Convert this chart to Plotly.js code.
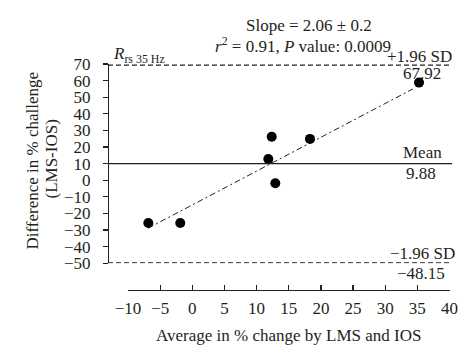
<!DOCTYPE html>
<html>
<head>
<meta charset="utf-8">
<script src="https://cdn.plot.ly/plotly-3.0.1.min.js"></script>
<style>html,body{margin:0;padding:0;background:#fff;}#chart{width:474px;height:361px;}</style>
</head>
<body>
<div id="chart"></div>
<script>
// Data
const avgChange = [-6.84, -1.87, 11.82, 12.35, 12.91, 18.3, 35.26];
const diffChange = [-25.7, -25.7, 12.8, 26.2, -1.8, 24.9, 58.8];
const fitX = [-6.9, 34.3];
const fitY = [-28.9, 55.0];
const upperLoA = 69.3;   // drawn position of +1.96 SD line
const meanDiff = 10.0;   // drawn position of mean line
const lowerLoA = -49.8;  // drawn position of -1.96 SD line
const xTicks = [-10, -5, 0, 5, 10, 15, 20, 25, 30, 35, 40];
const yTicks = [-50, -40, -30, -20, -10, 0, 10, 20, 30, 40, 50, 60, 70];
const labelUpper = ['+1.96 SD', '67.92'];
const labelMean = ['Mean', '9.88'];
const labelLower = ['\u22121.96 SD', '\u221248.15'];
const yTitleLines = ['Difference in % challenge', '(LMS-IOS)'];
const xTitle = 'Average in % change by LMS and IOS';

const W = 474, H = 361;
const L = 108, R = 452, T = 64, B = 290;
const px = x => (x - L) / (R - L);
const py = y => (B - y) / (B - T);
const FONT = 'Liberation Serif, Times New Roman, serif';
const INK = '#231f20';

const traces = [
  {x: fitX, y: fitY, mode: 'lines', type: 'scatter',
   line: {color: INK, width: 1, dash: '6px,3px,2px,3px'}, hoverinfo: 'skip'},
  {x: avgChange, y: diffChange, mode: 'markers', type: 'scatter',
   marker: {color: '#000', size: 10}}
];

function hline(y, dash) {
  return {type: 'line', xref: 'paper', x0: 0, x1: 1, yref: 'y', y0: y, y1: y,
          line: {color: INK, width: 1.2, dash: dash}};
}

function ann(text, x, y, xanchor, angle) {
  return {text: text, xref: 'paper', yref: 'paper', x: px(x), y: py(y),
          xanchor: xanchor || 'center', yanchor: 'middle', showarrow: false,
          textangle: angle || 0,
          font: {family: FONT, size: 17, color: INK}};
}

const layout = {
  width: W, height: H,
  margin: {l: L, r: W - R, t: T, b: H - B, pad: 0},
  paper_bgcolor: '#fff', plot_bgcolor: '#fff',
  showlegend: false,
  font: {family: FONT, size: 17, color: INK},
  xaxis: {
    domain: [(128 - L) / (R - L), (449.5 - L) / (R - L)],
    range: [-10, 40], anchor: 'free', position: 0,
    showline: true, linecolor: INK, linewidth: 1.2,
    ticks: 'inside', ticklen: 5, tickcolor: INK, tickwidth: 1.2,
    tickvals: xTicks, showgrid: false, zeroline: false,
    ticklabelstandoff: 2,
    tickfont: {family: FONT, size: 17, color: INK},
    title: {text: xTitle, standoff: 12,
            font: {family: FONT, size: 17, color: INK}}
  },
  yaxis: {
    domain: [(B - 263.3) / (B - T), 1],
    range: [-50, 70], anchor: 'free', position: 0,
    showline: true, linecolor: INK, linewidth: 1.2,
    ticks: 'outside', ticklen: 5, tickcolor: INK, tickwidth: 1.2,
    tickvals: yTicks, showgrid: false, zeroline: false,
    ticklabelstandoff: 9,
    tickfont: {family: FONT, size: 17, color: INK}
  },
  shapes: [hline(upperLoA, '5px,3px'), hline(meanDiff, 'solid'), hline(lowerLoA, '5px,3px')],
  annotations: [
    ann(yTitleLines[0], 31.5, 161, 'center', -90),
    ann(yTitleLines[1], 50.5, 159, 'center', -90),
    ann('Slope = 2.06 \u00b1 0.2', 308.5, 25),
    ann('<i>r</i><sup>2</sup> = 0.91, <i>P</i> value: 0.0009', 302.5, 45),
    ann('<i>R</i><sub>rs 35 Hz</sub>', 111, 55, 'left'),
    ann(labelUpper[0], 454, 56.7, 'right'),
    ann(labelUpper[1], 443, 73.3, 'right'),
    ann(labelMean[0], 444, 152.3, 'right'),
    ann(labelMean[1], 438, 173.3, 'right'),
    ann(labelLower[0], 457, 253.3, 'right'),
    ann(labelLower[1], 447, 273.3, 'right')
  ]
};

Plotly.newPlot('chart', traces, layout, {displayModeBar: false, staticPlot: true});
</script>
</body>
</html>
